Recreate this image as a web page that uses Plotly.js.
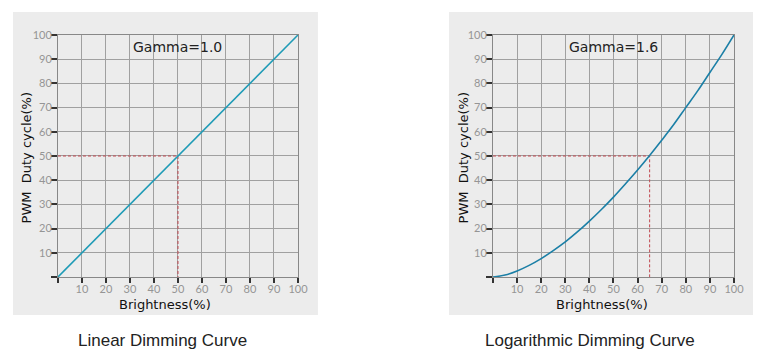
<!DOCTYPE html>
<html><head><meta charset="utf-8">
<script src="https://cdn.plot.ly/plotly-3.0.1.min.js"></script>
<style>html,body{margin:0;padding:0;background:#fff}#c{width:768px;height:360px}</style>
</head><body><div id="c"></div>
<script>
// Linear dimming curve (gamma 1.0)
const linBrightness = [0, 10, 20, 30, 40, 50, 60, 70, 80, 90, 100];
const linDuty       = [0, 10, 20, 30, 40, 50, 60, 70, 80, 90, 100];
// Logarithmic dimming curve (gamma 1.6)
const logBrightness = [0, 5, 10, 15, 20, 25, 30, 35, 40, 45, 50, 55, 60, 65, 70, 75, 80, 85, 90, 95, 100];
const logDuty       = [0, 0.8, 2.5, 4.8, 7.6, 10.9, 14.5, 18.6, 23.1, 27.9, 33, 38.5, 44.2, 50.2, 56.5, 63, 70, 77, 84.5, 92, 100];
// Guide (dashed) lines
const linGuideX = [0, 50, 50];
const linGuideY = [50, 50, 0];
const logGuideX = [0, 65, 65];
const logGuideY = [50, 50, 0];
// Ticks and text
const tickVals = [0, 10, 20, 30, 40, 50, 60, 70, 80, 90, 100];
const tickText = ['', '10', '20', '30', '40', '50', '60', '70', '80', '90', '100'];
const gammaLabels = ['Gamma=1.0', 'Gamma=1.6'];
const captions = ['Linear Dimming Curve', 'Logarithmic Dimming Curve'];
const xTitle = 'Brightness(%)';
const yTitle = 'PWM  Duty cycle(%)';

const guideStyle = {color: '#c0474f', width: 1, dash: '3px,2px'};
const traces = [
  {x: linGuideX, y: linGuideY, xaxis: 'x', yaxis: 'y', mode: 'lines', line: guideStyle, hoverinfo: 'skip'},
  {x: linBrightness, y: linDuty, xaxis: 'x', yaxis: 'y', mode: 'lines', line: {color: '#1f9bb6', width: 1.6}},
  {x: logGuideX, y: logGuideY, xaxis: 'x2', yaxis: 'y2', mode: 'lines', line: guideStyle, hoverinfo: 'skip'},
  {x: logBrightness, y: logDuty, xaxis: 'x2', yaxis: 'y2', mode: 'lines', line: {color: '#1b7fa6', width: 1.6, shape: 'spline'}}
];

const tickFont = {family: 'Lato, DejaVu Sans', size: 11, color: '#959595'};
function ax(domain, anchor, len) {
  return {domain: domain, anchor: anchor, range: [0, 100], tickmode: 'array', tickvals: tickVals, ticktext: tickText,
    ticks: 'outside', ticklen: len, tickwidth: 2, tickcolor: '#333', ticklabelstandoff: -3,
    showgrid: true, gridcolor: '#a0a0a0', gridwidth: 1, zeroline: false,
    showline: true, linecolor: '#888', linewidth: 1, mirror: true,
    tickfont: tickFont, fixedrange: true};
}

const yDom = [0.2306, 0.9028];
const titleFont = {family: 'DejaVu Sans', size: 13, color: '#111'};
const layout = {
  width: 768, height: 360, margin: {l: 0, r: 0, t: 0, b: 0},
  paper_bgcolor: '#ffffff', plot_bgcolor: '#ffffff', showlegend: false,
  xaxis: ax([0.0755, 0.388], 'y', 5), yaxis: ax(yDom, 'x', 6),
  xaxis2: ax([0.6419, 0.9557], 'y2', 5), yaxis2: ax(yDom, 'x2', 6),
  shapes: [
    {type: 'rect', xref: 'paper', yref: 'paper', x0: 0.0169, x1: 0.414, y0: 0.125, y1: 0.9667, fillcolor: '#ececec', line: {width: 0}, layer: 'below'},
    {type: 'rect', xref: 'paper', yref: 'paper', x0: 0.5846, x1: 0.9805, y0: 0.125, y1: 0.9667, fillcolor: '#ececec', line: {width: 0}, layer: 'below'}
  ],
  annotations: [
    {text: gammaLabels[0], xref: 'x', yref: 'y', x: 50, y: 95, xanchor: 'center', showarrow: false, font: {family: 'DejaVu Sans', size: 14, color: '#222'}},
    {text: gammaLabels[1], xref: 'x2', yref: 'y2', x: 50, y: 95, xanchor: 'center', showarrow: false, font: {family: 'DejaVu Sans', size: 14, color: '#222'}},
    {text: xTitle, xref: 'paper', yref: 'paper', x: 0.215, y: 0.153, xanchor: 'center', yanchor: 'middle', showarrow: false, font: titleFont},
    {text: xTitle, xref: 'paper', yref: 'paper', x: 0.784, y: 0.153, xanchor: 'center', yanchor: 'middle', showarrow: false, font: titleFont},
    {text: yTitle, xref: 'paper', yref: 'paper', x: 0.0339, y: 0.56, textangle: -90, xanchor: 'center', yanchor: 'middle', showarrow: false, font: titleFont},
    {text: yTitle, xref: 'paper', yref: 'paper', x: 0.6029, y: 0.56, textangle: -90, xanchor: 'center', yanchor: 'middle', showarrow: false, font: titleFont},
    {text: captions[0], xref: 'paper', yref: 'paper', x: 0.211, y: 0.053, xanchor: 'center', yanchor: 'middle', showarrow: false, font: {family: 'Liberation Sans, Arial', size: 17, color: '#222'}},
    {text: captions[1], xref: 'paper', yref: 'paper', x: 0.768, y: 0.053, xanchor: 'center', yanchor: 'middle', showarrow: false, font: {family: 'Liberation Sans, Arial', size: 17, color: '#222'}}
  ]
};
Plotly.newPlot('c', traces, layout, {displayModeBar: false, staticPlot: true});
</script></body></html>
